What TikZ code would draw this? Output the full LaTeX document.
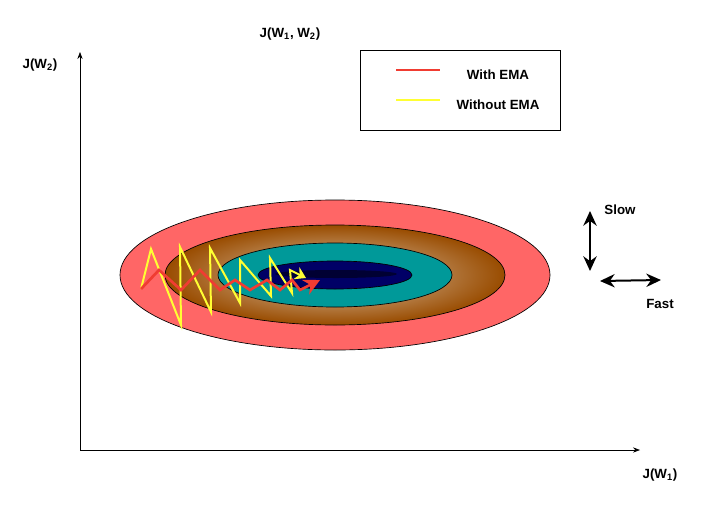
\documentclass[tikz,border=0pt]{standalone}
\usepackage{fontspec}
\setmainfont{Liberation Sans}
\usepackage{tikz}
\usetikzlibrary{arrows.meta}
\definecolor{salmon}{RGB}{255,102,102}
\definecolor{bowl}{RGB}{153,76,0}
\definecolor{tealc}{RGB}{0,153,153}
\definecolor{navyc}{RGB}{0,0,102}
\definecolor{deepc}{RGB}{0,0,51}
\definecolor{emared}{RGB}{240,60,50}
\definecolor{noema}{RGB}{255,255,51}
\begin{document}
\begin{tikzpicture}[x=0.75pt,y=-0.75pt,line width=0.6pt,>=Stealth,font=\bfseries\fontsize{10}{12}\selectfont,
  lvl/.style={draw=black,line width=0.5pt},
  lbl/.style={inner sep=1pt},
  dbl/.style={{Stealth[length=11pt,width=10pt]}-{Stealth[length=11pt,width=10pt]},line width=1.5pt}]
\useasboundingbox (0,0) rectangle (721,511);
% axes
\coordinate (o) at (80,450);
\coordinate (ytop) at (80,52);
\coordinate (xend) at (640,450);
\draw[->,line width=0.5pt] (o) -- (ytop);
\draw[->,line width=0.5pt] (o) -- (xend);
\node[lbl] (ylab) at (40,65) {J(W\textsubscript{2})};
\node[lbl] (xlab) at (660,475) {J(W\textsubscript{1})};
\node[lbl] (title) at (290,34) {J(W$_{\mathbf 1}$, W$_{\mathbf 2}$)};
% contours
\fill[lvl,fill=salmon] (335,275) ellipse [x radius=215,y radius=75];
\shade[lvl,inner color=bowl!30!white,outer color=bowl] (335,275) ellipse [x radius=170,y radius=50];
\draw[lvl,fill=tealc] (335,275) ellipse [x radius=117,y radius=32];
\draw[lvl,fill=navyc] (335,275) ellipse [x radius=77,y radius=14];
\fill[deepc] (336,274) ellipse [x radius=61,y radius=4];
% paths
\draw[noema,line width=1.5pt,line join=miter,-{Stealth[length=8pt,width=10pt]}]
  (141,289) -- (151,249) -- (181,325) -- (180,247) -- (211,312) -- (210,248)
  -- (240,303) -- (240,260) -- (271,296) -- (270,258) -- (292,293) -- (290,270) -- (306,278);
\draw[emared,line width=2pt,-{Stealth[length=12pt,width=12pt]}]
  (141,289) -- (159,270) -- (181,290) -- (200,270) -- (220,290) -- (235,280)
  -- (250,290) -- (267,280) -- (280,290) -- (292,280) -- (300,290) -- (320,280);
% legend
\node[draw,line width=0.5pt,minimum width=200*0.75pt,minimum height=80*0.75pt] (leg) at (460,90) {};
\coordinate (r1) at (396,70); \coordinate (r2) at (440,70);
\coordinate (y1) at (396,100); \coordinate (y2) at (440,100);
\draw[emared,line width=1.5pt] (r1) -- (r2);
\draw[noema,line width=1.5pt] (y1) -- (y2);
\node[lbl] (lr) at (498,75) {With EMA};
\node[lbl] (ly) at (498,105) {Without EMA};
% speed hints
\coordinate (s1) at (590,211); \coordinate (s2) at (590,271);
\coordinate (f1) at (600,281); \coordinate (f2) at (661,280);
\draw[dbl] (s1) -- (s2);
\draw[dbl] (f1) -- (f2);
\node[lbl] (slow) at (620,210) {Slow};
\node[lbl] (fast) at (660,304) {Fast};
\end{tikzpicture}
\end{document}
